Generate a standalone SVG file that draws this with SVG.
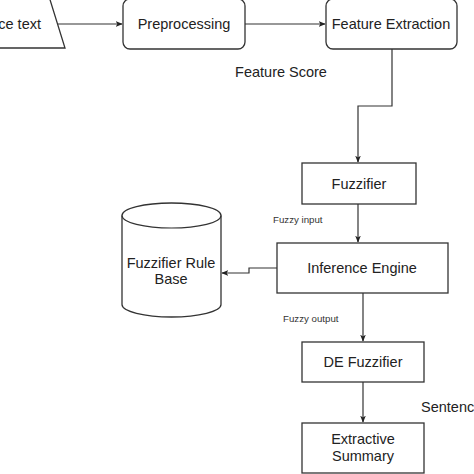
<svg xmlns="http://www.w3.org/2000/svg" width="474" height="474" viewBox="0 0 474 474">
<defs>
<style>
.box{fill:#fff;stroke:#333;stroke-width:1.3}
.t{font-family:"Liberation Sans",Arial,sans-serif;font-size:14.5px;fill:#222;text-anchor:middle;dominant-baseline:central}
.s{font-family:"Liberation Sans",Arial,sans-serif;font-size:9.7px;fill:#333;dominant-baseline:central}
.c{fill:none;stroke:#333;stroke-width:1.2}
</style>
<marker id="ah" viewBox="0 0 10 10" refX="9" refY="5" markerWidth="7" markerHeight="7" orient="auto" markerUnits="userSpaceOnUse">
<path d="M0,1 L10,5 L0,9 L2.5,5 Z" fill="#222"/>
</marker>
</defs>
<rect width="474" height="474" fill="#fff"/>
<g id="connectors">
<path class="c" d="M58,24 H122" marker-end="url(#ah)"/>
<path class="c" d="M245,24 H325" marker-end="url(#ah)"/>
<path class="c" d="M392,49 V106 H358 V162" marker-end="url(#ah)"/>
<path class="c" d="M358,204 V242" marker-end="url(#ah)"/>
<path class="c" d="M277,268 H249 V273 H222" marker-end="url(#ah)"/>
<path class="c" d="M363,293 V341" marker-end="url(#ah)"/>
<path class="c" d="M363,382 V422" marker-end="url(#ah)"/>
</g>
<g id="source">
<polygon class="box" points="-30,-10 47,-10 65,48 -30,48"/>
<text class="t" x="41" y="24" style="text-anchor:end">ce text</text>
</g>
<g id="preprocessing">
<rect class="box" x="123" y="-1" width="122" height="50" rx="7"/>
<text class="t" x="184" y="24">Preprocessing</text>
</g>
<g id="feature-extraction">
<rect class="box" x="326" y="-1" width="131" height="50" rx="7"/>
<text class="t" x="391" y="24">Feature Extraction</text>
</g>
<g id="feature-score">
<text class="t" x="281" y="72">Feature Score</text>
</g>
<g id="fuzzifier">
<rect class="box" x="302" y="163" width="114" height="41"/>
<text class="t" x="359" y="183.5">Fuzzifier</text>
</g>
<g id="fuzzy-input">
<text class="s" x="273" y="219">Fuzzy input</text>
</g>
<g id="inference-engine">
<rect class="box" x="277" y="243" width="171" height="50"/>
<text class="t" x="362" y="268">Inference Engine</text>
</g>
<g id="rule-base">
<path class="box" d="M122,215.5 A49.5,12.5 0 0 1 221,215.5 V304.5 A49.5,12.5 0 0 1 122,304.5 Z"/>
<path class="c" d="M122,215.5 A49.5,12.5 0 0 0 221,215.5"/>
<text class="t" x="171" y="263">Fuzzifier Rule</text>
<text class="t" x="171" y="279">Base</text>
</g>
<g id="fuzzy-output">
<text class="s" x="283" y="318">Fuzzy output</text>
</g>
<g id="de-fuzzifier">
<rect class="box" x="302" y="342" width="122" height="40"/>
<text class="t" x="363" y="362">DE Fuzzifier</text>
</g>
<g id="sentence">
<text class="t" x="421" y="407" style="text-anchor:start">Sentenc</text>
</g>
<g id="extractive-summary">
<rect class="box" x="302" y="423" width="122" height="50"/>
<text class="t" x="363" y="439">Extractive</text>
<text class="t" x="363" y="456">Summary</text>
</g>
</svg>
